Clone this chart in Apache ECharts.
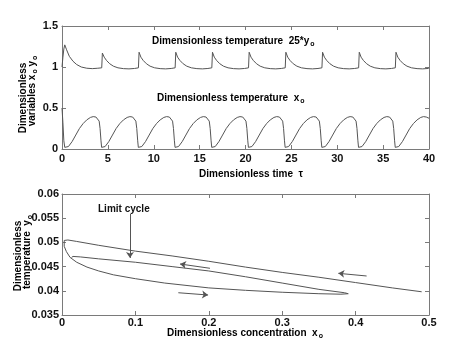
<!DOCTYPE html>
<html>
<head>
<meta charset="utf-8">
<script src="https://cdn.jsdelivr.net/npm/echarts@6/dist/echarts.min.js"></script>
<style>html,body{margin:0;padding:0;background:#fff}#c{width:474px;height:349px}</style>
</head>
<body>
<div id="c"></div>
<script>
// ---- Top panel: time series (tau, value) ----
const tauX0 = [0,0.1,0.2,0.3,0.4,0.7,1.1,1.5,1.9,2.3,2.7,3.1,3.4,3.7,3.9,4.05,4.15,4.25,4.32,
  4.4,4.7,5.1,5.5,5.9,6.3,6.7,7.1,7.4,7.7,7.9,8.05,8.15,8.25,8.32,
  8.4,8.7,9.1,9.5,9.9,10.3,10.7,11.1,11.4,11.7,11.9,12.05,12.15,12.25,12.32,
  12.4,12.7,13.1,13.5,13.9,14.3,14.7,15.1,15.4,15.7,15.9,16.05,16.15,16.25,16.32,
  16.4,16.7,17.1,17.5,17.9,18.3,18.7,19.1,19.4,19.7,19.9,20.05,20.15,20.25,20.32,
  20.4,20.7,21.1,21.5,21.9,22.3,22.7,23.1,23.4,23.7,23.9,24.05,24.15,24.25,24.32,
  24.4,24.7,25.1,25.5,25.9,26.3,26.7,27.1,27.4,27.7,27.9,28.05,28.15,28.25,28.32,
  28.4,28.7,29.1,29.5,29.9,30.3,30.7,31.1,31.4,31.7,31.9,32.05,32.15,32.25,32.32,
  32.4,32.7,33.1,33.5,33.9,34.3,34.7,35.1,35.4,35.7,35.9,36.05,36.15,36.25,36.32,
  36.4,36.7,37.1,37.5,37.9,38.3,38.7,39.1,39.4,39.7,40];
const valX0 = [0.50,0.32,0.10,0.02,0.01,0.03,0.09,0.17,0.25,0.31,0.355,0.385,0.395,0.39,0.37,0.34,0.25,0.10,0.02,
  0.01,0.03,0.09,0.17,0.25,0.31,0.355,0.385,0.395,0.39,0.37,0.34,0.25,0.10,0.02,
  0.01,0.03,0.09,0.17,0.25,0.31,0.355,0.385,0.395,0.39,0.37,0.34,0.25,0.10,0.02,
  0.01,0.03,0.09,0.17,0.25,0.31,0.355,0.385,0.395,0.39,0.37,0.34,0.25,0.10,0.02,
  0.01,0.03,0.09,0.17,0.25,0.31,0.355,0.385,0.395,0.39,0.37,0.34,0.25,0.10,0.02,
  0.01,0.03,0.09,0.17,0.25,0.31,0.355,0.385,0.395,0.39,0.37,0.34,0.25,0.10,0.02,
  0.01,0.03,0.09,0.17,0.25,0.31,0.355,0.385,0.395,0.39,0.37,0.34,0.25,0.10,0.02,
  0.01,0.03,0.09,0.17,0.25,0.31,0.355,0.385,0.395,0.39,0.37,0.34,0.25,0.10,0.02,
  0.01,0.03,0.09,0.17,0.25,0.31,0.355,0.385,0.395,0.39,0.37,0.34,0.25,0.10,0.02,
  0.01,0.03,0.09,0.17,0.25,0.31,0.355,0.385,0.395,0.39,0.375];

const tauY0 = [0,0.1,0.2,0.3,0.5,0.8,1.2,1.6,2.1,2.7,3.3,3.9,4.33,
  4.4,4.6,4.85,5.2,5.6,6.1,6.7,7.3,7.9,8.33,
  8.4,8.6,8.85,9.2,9.6,10.1,10.7,11.3,11.9,12.33,
  12.4,12.6,12.85,13.2,13.6,14.1,14.7,15.3,15.9,16.33,
  16.4,16.6,16.85,17.2,17.6,18.1,18.7,19.3,19.9,20.33,
  20.4,20.6,20.85,21.2,21.6,22.1,22.7,23.3,23.9,24.33,
  24.4,24.6,24.85,25.2,25.6,26.1,26.7,27.3,27.9,28.33,
  28.4,28.6,28.85,29.2,29.6,30.1,30.7,31.3,31.9,32.33,
  32.4,32.6,32.85,33.2,33.6,34.1,34.7,35.3,35.9,36.33,
  36.4,36.6,36.85,37.2,37.6,38.1,38.7,39.3,39.9,40];
const valY0x25 = [1.0,1.12,1.22,1.27,1.21,1.13,1.07,1.03,1.0,0.985,0.98,0.985,0.99,
  1.17,1.12,1.08,1.04,1.01,0.99,0.98,0.977,0.982,0.99,
  1.18,1.12,1.08,1.04,1.01,0.99,0.98,0.977,0.982,0.99,
  1.18,1.12,1.08,1.04,1.01,0.99,0.98,0.977,0.982,0.99,
  1.18,1.12,1.08,1.04,1.01,0.99,0.98,0.977,0.982,0.99,
  1.18,1.12,1.08,1.04,1.01,0.99,0.98,0.977,0.982,0.99,
  1.18,1.12,1.08,1.04,1.01,0.99,0.98,0.977,0.982,0.99,
  1.18,1.12,1.08,1.04,1.01,0.99,0.98,0.977,0.982,0.99,
  1.18,1.12,1.08,1.04,1.01,0.99,0.98,0.977,0.982,0.99,
  1.18,1.12,1.08,1.04,1.01,0.99,0.98,0.977,0.982,0.99];

// ---- Bottom panel: phase trajectory (x0, y0) ----
const phaseX = [0.49,0.45,0.40,0.35,0.30,0.25,0.20,0.15,0.10,0.05,0.02,0.008,0.003,0.002,
  0.003,0.006,0.011,0.020,0.034,0.050,0.070,0.100,0.140,0.200,0.250,0.300,0.350,0.380,0.390,0.385,
  0.350,0.300,0.250,0.200,0.150,0.100,0.050,0.025,0.015,0.013];
const phaseY = [0.0398,0.0406,0.0417,0.0428,0.0438,0.0449,0.0461,0.0472,0.0482,0.0494,0.0502,0.0505,0.0504,0.0500,
  0.0492,0.0481,0.0469,0.0459,0.0449,0.0441,0.0433,0.0425,0.0416,0.0406,0.0401,0.0397,0.0394,0.0393,0.0394,0.0396,
  0.0403,0.0416,0.0429,0.0441,0.0450,0.0459,0.0466,0.0470,0.0471,0.0469];

// arrows (data units)
const arrowFromX = [0.0926,0.2016,0.415,0.1585];
const arrowFromY = [0.0559,0.04465,0.04306,0.0396];
const arrowToX   = [0.0926,0.1608,0.3765,0.199];
const arrowToY   = [0.0468,0.04554,0.04361,0.03913];

const FONT = '"Liberation Sans", Arial, sans-serif';
const LINE = '#555';
const AXIS = '#7a7a7a';
const TXT = '#111';

function pairs(a,b){ return a.map((v,i)=>[v,b[i]]); }

const chart = echarts.init(document.getElementById('c'), null, {renderer:'canvas'});

function axisCommon(extra){
  return Object.assign({
    type:'value',
    axisLine:{show:true, onZero:false, lineStyle:{color:AXIS, width:1}},
    axisTick:{show:true, inside:true, length:4, lineStyle:{color:AXIS}},
    splitLine:{show:false},
    axisLabel:{show:true, color:TXT, fontFamily:FONT, fontWeight:'bold', fontSize:11, margin:4}
  }, extra);
}
function hideLabels(ax){ ax.axisLabel = {show:false}; return ax; }

const subRich = {
  a:{fontFamily:FONT, fontWeight:'bold', fontSize:10, color:TXT},
  s:{fontFamily:FONT, fontWeight:'bold', fontSize:7, color:TXT, padding:[7,0,0,1]}
};

const arrowLines = arrowFromX.map((x,i)=>({coords:[[x,arrowFromY[i]],[arrowToX[i],arrowToY[i]]]}));

const option = {
  animation:false,
  backgroundColor:'#fff',
  grid:[
    {left:62, top:26, width:367, height:123, show:false},
    {left:62, top:194, width:367, height:121, show:false}
  ],
  xAxis:[
    axisCommon({gridIndex:0, min:0, max:40, interval:5, position:'bottom'}),
    hideLabels(axisCommon({gridIndex:0, min:0, max:40, interval:5, position:'top'})),
    axisCommon({gridIndex:1, min:0, max:0.5, interval:0.1, position:'bottom',
      axisLabel:{color:TXT, fontFamily:FONT, fontWeight:'bold', fontSize:11, margin:2, formatter:v=>String(+v.toFixed(3))}}),
    hideLabels(axisCommon({gridIndex:1, min:0, max:0.5, interval:0.1, position:'top'}))
  ],
  yAxis:[
    axisCommon({gridIndex:0, min:0, max:1.5, interval:0.5, position:'left'}),
    hideLabels(axisCommon({gridIndex:0, min:0, max:1.5, interval:0.5, position:'right'})),
    axisCommon({gridIndex:1, min:0.035, max:0.06, interval:0.005, position:'left',
      axisLabel:{color:TXT, fontFamily:FONT, fontWeight:'bold', fontSize:11, margin:3, formatter:v=>String(+v.toFixed(3))}}),
    hideLabels(axisCommon({gridIndex:1, min:0.035, max:0.06, interval:0.005, position:'right'}))
  ],
  series:[
    {type:'line', xAxisIndex:0, yAxisIndex:0, data:pairs(tauY0,valY0x25), showSymbol:false, lineStyle:{color:LINE,width:1}},
    {type:'line', xAxisIndex:0, yAxisIndex:0, data:pairs(tauX0,valX0), showSymbol:false, lineStyle:{color:LINE,width:1}},
    {type:'line', xAxisIndex:2, yAxisIndex:2, data:pairs(phaseX,phaseY), showSymbol:false, lineStyle:{color:LINE,width:1}},
    {type:'lines', coordinateSystem:'cartesian2d', xAxisIndex:2, yAxisIndex:2, data:arrowLines,
      symbol:['none','arrow'], symbolSize:6, lineStyle:{color:LINE,width:1,opacity:1}}
  ],
  graphic:[
    {type:'text', left:152, top:36, style:{text:'{a|Dimensionless temperature  25*y}{s|o}', rich:subRich}},
    {type:'text', left:157, top:93, style:{text:'{a|Dimensionless temperature  x}{s|o}', rich:subRich}},
    {type:'text', left:98, top:204, style:{text:'Limit cycle', fontFamily:FONT, fontWeight:'bold', fontSize:10, fill:TXT}},
    {type:'text', x:251, y:174, style:{text:'{a|Dimensionless time  τ}', rich:subRich, align:'center', verticalAlign:'middle'}},
    {type:'text', x:245, y:333, style:{text:'{a|Dimensionless concentration  x}{s|o}', rich:subRich, align:'center', verticalAlign:'middle'}},
    {type:'text', x:23, y:98, rotation:Math.PI/2, style:{text:'{a|Dimensionless}', rich:subRich, align:'center', verticalAlign:'middle'}},
    {type:'text', x:32, y:91, rotation:Math.PI/2, style:{text:'{a|variables x}{s|o}{a| y}{s|o}', rich:subRich, align:'center', verticalAlign:'middle'}},
    {type:'text', x:18, y:256, rotation:Math.PI/2, style:{text:'{a|Dimensionless}', rich:subRich, align:'center', verticalAlign:'middle'}},
    {type:'text', x:27, y:252, rotation:Math.PI/2, style:{text:'{a|temperature  y}{s|o}', rich:subRich, align:'center', verticalAlign:'middle'}}
  ]
};
chart.setOption(option);
</script>
</body>
</html>
